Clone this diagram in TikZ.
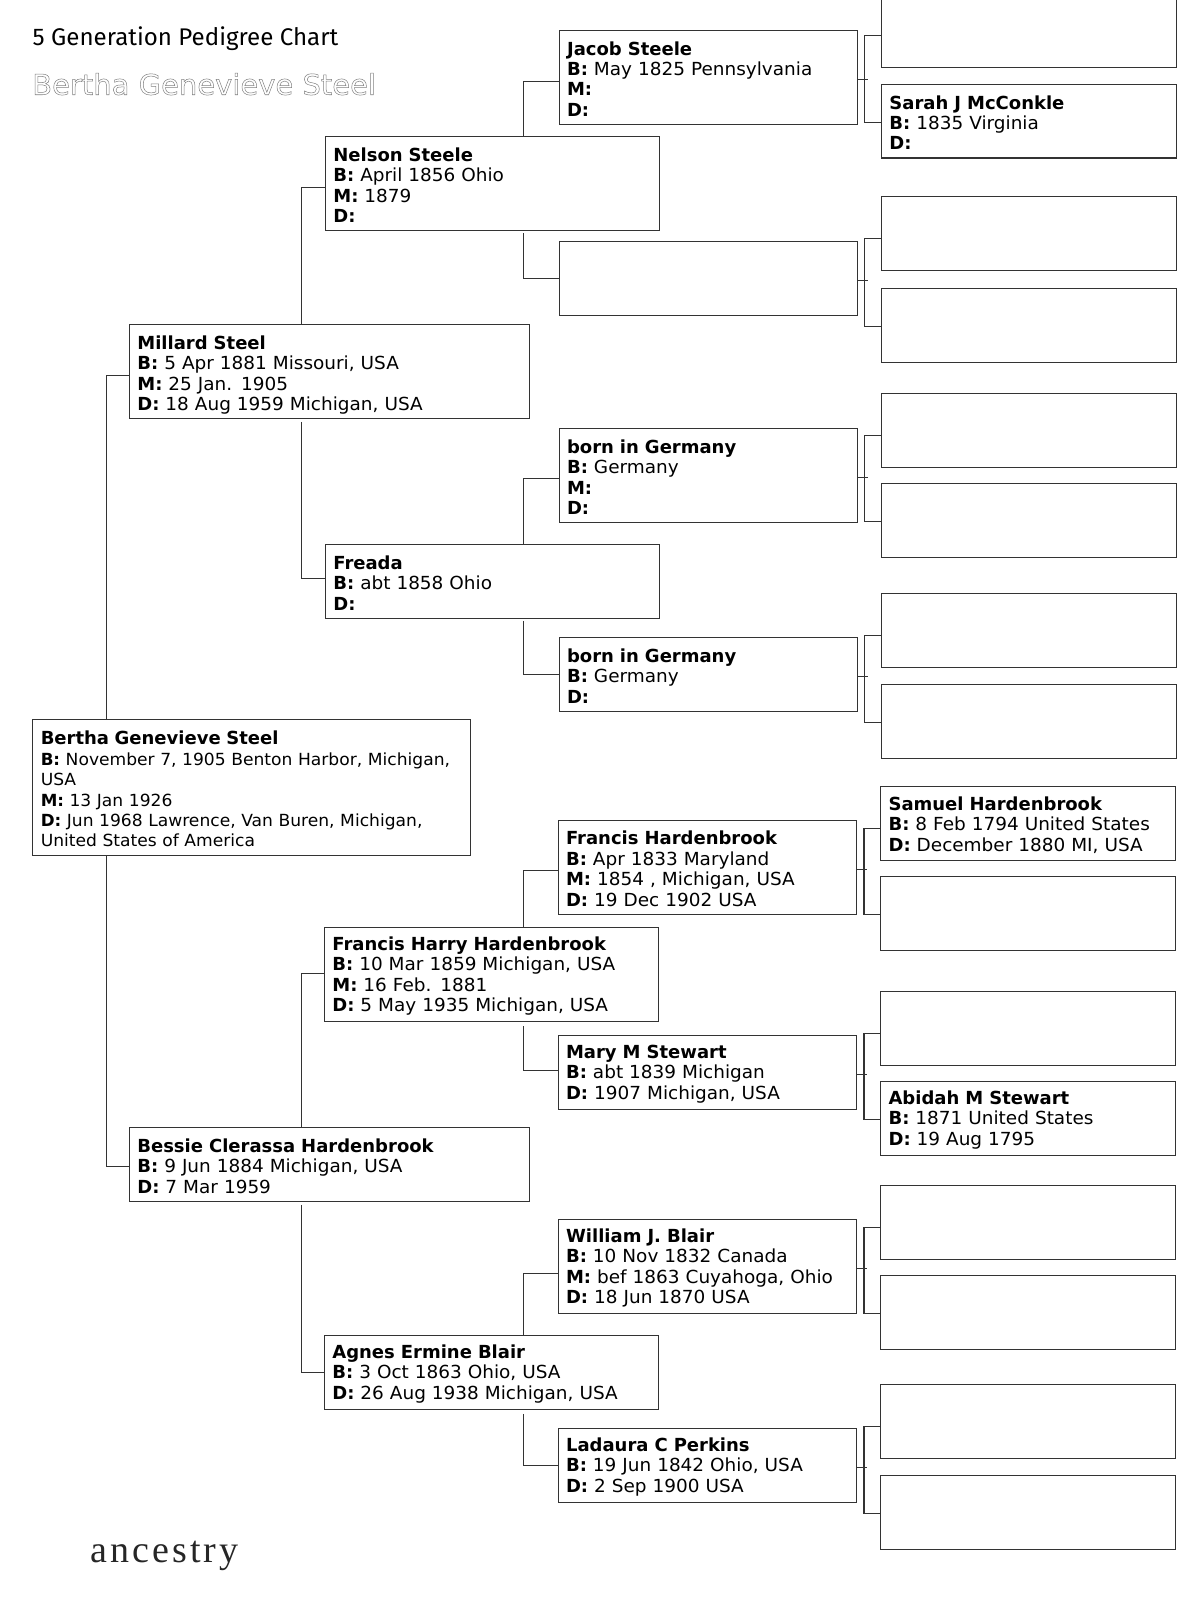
\documentclass[tikz,border=0pt]{standalone}
\usepackage{fontspec}
\setmainfont[FakeStretch=1.025,BoldFeatures={FakeStretch=1}]{DejaVu Sans}
\newfontfamily\titlefont{Fira Sans}
\newfontfamily\logofont[LetterSpace=8]{Liberation Serif}
\tikzset{
  personbox/.style={draw=black!80,line width=1.1pt,fill=white,anchor=north west,align=left,inner xsep=8pt,inner ysep=0pt,
    font=\fontsize{18}{20.4}\selectfont,execute at begin node=\rule{0pt}{16.7pt}},
  gena/.style={personbox,text width=422pt},
  genb/.style={personbox,text width=384pt},
  genc/.style={personbox,text width=318pt},
  gend/.style={personbox,text width=282pt},
  gene/.style={personbox,text width=279pt,minimum height=73.5pt},
  threeline/.style={minimum height=73.5pt},
  fourline/.style={minimum height=94pt},
  link/.style={draw=black!80,line width=1.1pt}
}
\begin{document}
\begin{tikzpicture}[x=1pt,y=-1pt]
  \useasboundingbox (0.8,0.8) rectangle (1186.8,1600.8);
  \node[anchor=west,font=\titlefont\fontsize{24.1}{28}\selectfont] (charttitle) at (30,39) {5 Generation Pedigree Chart};
  \node[anchor=west,font=\fontsize{28.3}{32}\selectfont,text=black!50] (chartname) at (29.5,85)
    {\special{pdf:code 1 Tr 0.5 w}Bertha Genevieve Steel\special{pdf:code 0 Tr 1 w}};
  \node[anchor=west,font=\logofont\fontsize{38}{40}\selectfont,text=black!85] (ancestrylogo) at (88,1557) {ancestry};
  % generation one and two
  \node[gena,minimum height=136.5pt,font=\fontsize{16.7}{20.4}\selectfont,execute at begin node={}] (bertha) at (33,719.6) {\textbf{\fontsize{18}{20.4}\selectfont Bertha Genevieve Steel}\\\textbf{B:} November 7, 1905 Benton Harbor, Michigan,\\USA\\\textbf{M:} 13 Jan 1926\\\textbf{D:} Jun 1968 Lawrence, Van Buren, Michigan,\\United States of America};
  \node[genb,fourline,execute at begin node=\rule{0pt}{20.7pt}] (millard) at (129.6,324.6) {\textbf{Millard Steel}\\\textbf{B:} 5 Apr 1881 Missouri, USA\\\textbf{M:} 25 Jan. 1905\\\textbf{D:} 18 Aug 1959 Michigan, USA};
  \node[genb,threeline] (bessie) at (129.6,1128) {\textbf{Bessie Clerassa Hardenbrook}\\\textbf{B:} 9 Jun 1884 Michigan, USA\\\textbf{D:} 7 Mar 1959};
  % generation three
  \node[genc,fourline] (nelson) at (325.6,136.8) {\textbf{Nelson Steele}\\\textbf{B:} April 1856 Ohio\\\textbf{M:} 1879\\\textbf{D:}};
  \node[genc,threeline] (freada) at (325.6,545) {\textbf{Freada}\\\textbf{B:} abt 1858 Ohio\\\textbf{D:}};
  \node[genc,fourline] (francisharry) at (324.6,927.8) {\textbf{Francis Harry Hardenbrook}\\\textbf{B:} 10 Mar 1859 Michigan, USA\\\textbf{M:} 16 Feb. 1881\\\textbf{D:} 5 May 1935 Michigan, USA};
  \node[genc,threeline] (agnes) at (324.6,1336) {\textbf{Agnes Ermine Blair}\\\textbf{B:} 3 Oct 1863 Ohio, USA\\\textbf{D:} 26 Aug 1938 Michigan, USA};
  % generation four
  \node[gend,fourline] (jacob) at (559.3,30.6) {\textbf{Jacob Steele}\\\textbf{B:} May 1825 Pennsylvania\\\textbf{M:}\\\textbf{D:}};
  \node[gend,threeline] (nelsonwife) at (559.3,241.9) {};
  \node[gend,fourline] (germanyone) at (559.3,428.7) {\textbf{born in Germany}\\\textbf{B:} Germany\\\textbf{M:}\\\textbf{D:}};
  \node[gend,threeline] (germanytwo) at (559.3,637.9) {\textbf{born in Germany}\\\textbf{B:} Germany\\\textbf{D:}};
  \node[gend,fourline] (francis) at (558.3,820.6) {\textbf{Francis Hardenbrook}\\\textbf{B:} Apr 1833 Maryland\\\textbf{M:} 1854 , Michigan, USA\\\textbf{D:} 19 Dec 1902 USA};
  \node[gend,threeline] (mary) at (558.3,1036) {\textbf{Mary M Stewart}\\\textbf{B:} abt 1839 Michigan\\\textbf{D:} 1907 Michigan, USA};
  \node[gend,fourline] (william) at (558.3,1219.7) {\textbf{William J. Blair}\\\textbf{B:} 10 Nov 1832 Canada\\\textbf{M:} bef 1863 Cuyahoga, Ohio\\\textbf{D:} 18 Jun 1870 USA};
  \node[gend,threeline] (ladaura) at (558.3,1429) {\textbf{Ladaura C Perkins}\\\textbf{B:} 19 Jun 1842 Ohio, USA\\\textbf{D:} 2 Sep 1900 USA};
  % generation five
  \node[gene] (jacobfather) at (881.7,-6.1) {};
  \node[gene] (sarah) at (881.7,84.7) {\textbf{Sarah J McConkle}\\\textbf{B:} 1835 Virginia\\\textbf{D:}};
  \node[gene] (samuel) at (880.8,787) {\textbf{Samuel Hardenbrook}\\\textbf{B:} 8 Feb 1794 United States\\\textbf{D:} December 1880 MI, USA};
  \node[gene] (abidah) at (880.8,1082) {\textbf{Abidah M Stewart}\\\textbf{B:} 1871 United States\\\textbf{D:} 19 Aug 1795};
  \foreach \n/\x/\y in {ea/881.7/197,eb/881.7/288.9,ec/881.7/394,ed/881.7/483.8,ee/881.7/594,ef/881.7/684.9,eg/880.8/876.8,eh/880.8/992.1,ei/880.8/1186,ej/880.8/1275.8,ek/880.8/1385.1,el/880.8/1475.9}{
    \node[gene] (\n) at (\x,\y) {};
  }
  % parents to children
  \draw[link] ([xshift=74pt]bertha.north west) |- ([yshift=-4pt]millard.west);
  \draw[link] ([xshift=74pt]bertha.south west) |- ([yshift=-2pt]bessie.west);
  \draw[link] ([xshift=172.5pt]millard.north west) |- ([yshift=-4pt]nelson.west);
  \draw[link] ([xshift=172.5pt,yshift=-3pt]millard.south west) |- ([yshift=3pt]freada.west);
  \draw[link] ([xshift=173pt]bessie.north west) |- ([yshift=1pt]francisharry.west);
  \draw[link] ([xshift=173pt,yshift=-3pt]bessie.south west) |- (agnes.west);
  \draw[link] ([xshift=199pt]nelson.north west) |- ([yshift=-4pt]jacob.west);
  \draw[link] ([xshift=199pt,yshift=-2pt]nelson.south west) |- (nelsonwife.west);
  \draw[link] ([xshift=199pt]freada.north west) |- ([yshift=-3pt]germanyone.west);
  \draw[link] ([xshift=199pt,yshift=-2pt]freada.south west) |- (germanytwo.west);
  \draw[link] ([xshift=200pt]francisharry.north west) |- ([yshift=-3pt]francis.west);
  \draw[link] ([xshift=200pt,yshift=-4pt]francisharry.south west) |- ([yshift=2pt]mary.west);
  \draw[link] ([xshift=200pt]agnes.north west) |- ([yshift=-7pt]william.west);
  \draw[link] ([xshift=200pt,yshift=-4pt]agnes.south west) |- (ladaura.west);
  % brackets into the last generation
  \foreach \p/\a/\b in {jacob/jacobfather/sarah,nelsonwife/ea/eb,germanyone/ec/ed,germanytwo/ee/ef,francis/samuel/eg,mary/eh/abidah,william/ei/ej,ladaura/ek/el}{
    \draw[link] ([yshift=-5pt]\a.west) -- ++(-16,0) |- ([yshift=-1pt]\b.west);
    \draw[link] ([yshift=-2pt]\p.east) -- ++(10,0);
  }
\end{tikzpicture}
\end{document}
